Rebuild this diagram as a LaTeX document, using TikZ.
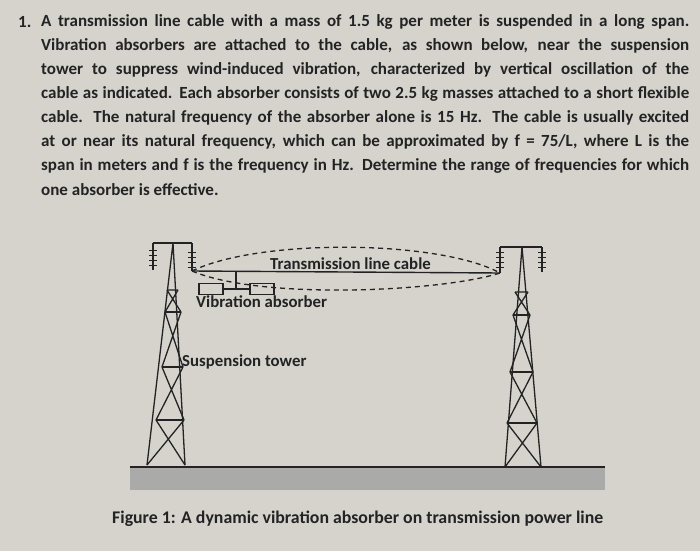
\documentclass[tikz,border=0pt]{standalone}
\usepackage{fontspec}
\setmainfont{Carlito}
\begin{document}
\begin{tikzpicture}[x=1pt,y=-1pt,
  txt/.style={anchor=west,inner sep=0pt,font=\bfseries\fontsize{17}{19}\selectfont,text=ink},
  lbl/.style={anchor=west,inner sep=0pt,font=\bfseries\fontsize{16.8}{18}\selectfont,text=ink},
  twr/.style={line width=1.3pt,draw=ink},
  dsh/.style={dashed,line width=1.3pt,draw=ink,dash pattern=on 5pt off 4pt}]
\definecolor{paper}{RGB}{214,211,204}
\definecolor{ink}{RGB}{35,35,38}
\definecolor{band}{RGB}{170,170,168}
\fill[paper] (0,0) rectangle (700,551);
\useasboundingbox (0,0) rectangle (700,551);
% question text
\node[txt] (n1) at (18,22) {1.};
\node[txt] (l1) at (41,22) {\makebox[648pt][s]{A transmission line cable with a mass of 1.5 kg per meter is suspended in a long span.}};
\node[txt] (l2) at (41,46) {\makebox[648pt][s]{Vibration absorbers are attached to the cable, as shown below, near the suspension}};
\node[txt] (l3) at (41,70) {\makebox[648pt][s]{tower to suppress wind-induced vibration, characterized by vertical oscillation of the}};
\node[txt] (l4) at (41,94) {\makebox[648pt][s]{cable as indicated. Each absorber consists of two 2.5 kg masses attached to a short flexible}};
\node[txt] (l5) at (41,118) {\makebox[648pt][s]{cable. The natural frequency of the absorber alone is 15 Hz. The cable is usually excited}};
\node[txt] (l6) at (41,142) {\makebox[648pt][s]{at or near its natural frequency, which can be approximated by f = 75/L, where L is the}};
\node[txt] (l7) at (41,166) {\makebox[648pt][s]{span in meters and f is the frequency in Hz. Determine the range of frequencies for which}};
\node[txt] (l8) at (41,190) {one absorber is effective.};
% ground
\fill[band] (130,468) rectangle (605,490);
\draw[line width=2.5pt,ink] (130,467) -- (605,467);
% left tower
\draw[twr] (147,465) -- (173,243) -- (185,465);
\draw[twr] (153,243) -- (192,243);
\draw[twr] (165,312)--(181,312) (162,367)--(183,367) (156,420)--(184,420);
\draw[twr] (165,312)--(183,367) (181,312)--(162,367)
           (162,367)--(184,420) (183,367)--(156,420)
           (156,420)--(185,465) (184,420)--(147,465);
\draw[twr] (167,290)--(181,312) (178,290)--(165,312) (167,290)--(178,290);
\draw[twr] (153,243)--(153,270) (192,243)--(192,271);
\foreach \yy in {250,255,260,265}{\draw[line width=1pt,ink] (149,\yy)--(157,\yy) (188,\yy+2)--(196,\yy+2);}
% right tower
\draw[twr] (505,467) -- (522,247) -- (541,467);
\draw[twr] (500,247) -- (542,247);
\draw[twr] (513,315)--(530,315) (510,372)--(533,372) (507,423)--(537,423);
\draw[twr] (513,315)--(533,372) (530,315)--(510,372)
           (510,372)--(537,423) (533,372)--(507,423)
           (507,423)--(541,467) (537,423)--(505,467);
\draw[twr] (515,292)--(530,315) (528,292)--(513,315) (515,292)--(528,292);
\draw[twr] (500,247)--(500,273) (542,247)--(542,272);
\foreach \yy in {252,257,262,267}{\draw[line width=1pt,ink] (496,\yy)--(504,\yy) (538,\yy)--(546,\yy);}
% cable
\coordinate (cl) at (192,271);
\coordinate (cr) at (500,273);
\draw[line width=1.4pt,ink] (cl) -- (cr);
\draw[dsh] (cl) .. controls (260,238) and (440,240) .. (cr);
\draw[dsh] (cl) .. controls (260,300) and (440,292) .. (cr);
% absorber
\draw[line width=1.2pt,ink] (236,272)--(236,290) (223,289)--(250,289);
\node[draw=ink,line width=1.2pt,minimum width=24pt,minimum height=11pt,inner sep=0pt] (m1) at (211,289) {};
\node[draw=ink,line width=1.2pt,minimum width=24pt,minimum height=11pt,inner sep=0pt] (m2) at (262,289) {};
% labels
\node[lbl] (tc) at (270,264) {Transmission line cable};
\node[lbl] (va) at (196,302) {Vibration absorber};
\node[lbl] (st) at (182,362) {Suspension tower};
\node[txt,font=\bfseries\fontsize{17.8}{19}\selectfont] (cap) at (112,519) {Figure 1: A dynamic vibration absorber on transmission power line};
\end{tikzpicture}
\end{document}
